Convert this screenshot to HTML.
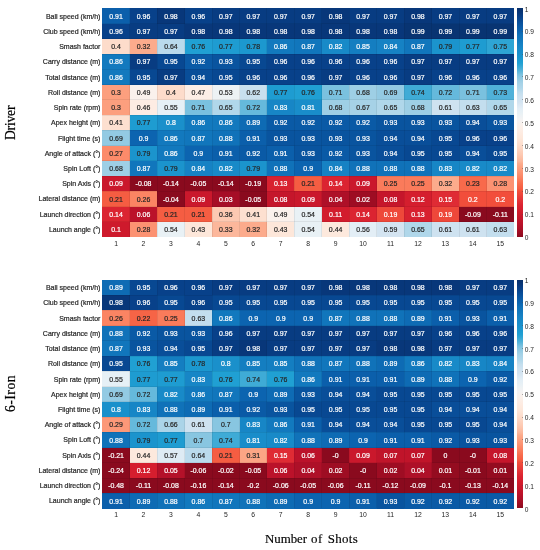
<!DOCTYPE html>
<html><head><meta charset="utf-8"><title>Heatmap</title>
<style>
html,body{margin:0;padding:0;background:#fff;}
body{width:540px;height:550px;position:relative;overflow:hidden;font-family:"Liberation Sans",sans-serif;}
.c{position:absolute;text-align:center;font-size:6.95px;line-height:15.25px;box-sizing:border-box;white-space:nowrap;overflow:hidden;padding-top:0.4px;-webkit-text-stroke:0.2px;}
.yl{position:absolute;right:439.6px;text-align:right;font-size:7.0px;color:#262626;white-space:nowrap;line-height:10px;height:10px;-webkit-text-stroke:0.2px;}
.xl{position:absolute;text-align:center;font-size:6.8px;color:#262626;width:28px;line-height:10px;}
.cb{position:absolute;left:517px;width:6px;}
.cl{position:absolute;left:524.8px;font-size:6.6px;color:#262626;line-height:10px;height:10px;}
.g{position:absolute;background:rgba(0,0,0,0.065);}
.rot{position:absolute;font-family:"Liberation Serif",serif;font-size:13.6px;line-height:16px;color:#000;-webkit-text-stroke:0.2px #000;white-space:nowrap;transform-origin:0 0;transform:rotate(-90deg);}
.xt{position:absolute;font-family:"Liberation Serif",serif;font-size:12.9px;line-height:15px;color:#000;-webkit-text-stroke:0.15px #000;white-space:nowrap;top:531.8px;}
</style></head><body>

<div class="yl" style="top:11.52px">Ball speed (km/h)</div>
<div class="c" style="left:102.30px;top:8.30px;width:27.50px;height:15.30px;background:#0b5fab;color:#fff">0.91</div>
<div class="c" style="left:129.75px;top:8.30px;width:27.50px;height:15.30px;background:#08418a;color:#fff">0.96</div>
<div class="c" style="left:157.19px;top:8.30px;width:27.50px;height:15.30px;background:#08377a;color:#fff">0.98</div>
<div class="c" style="left:184.64px;top:8.30px;width:27.50px;height:15.30px;background:#08418a;color:#fff">0.96</div>
<div class="c" style="left:212.09px;top:8.30px;width:27.50px;height:15.30px;background:#083c82;color:#fff">0.97</div>
<div class="c" style="left:239.53px;top:8.30px;width:27.50px;height:15.30px;background:#083c82;color:#fff">0.97</div>
<div class="c" style="left:266.98px;top:8.30px;width:27.50px;height:15.30px;background:#083c82;color:#fff">0.97</div>
<div class="c" style="left:294.43px;top:8.30px;width:27.50px;height:15.30px;background:#083c82;color:#fff">0.97</div>
<div class="c" style="left:321.87px;top:8.30px;width:27.50px;height:15.30px;background:#08377a;color:#fff">0.98</div>
<div class="c" style="left:349.32px;top:8.30px;width:27.50px;height:15.30px;background:#083c82;color:#fff">0.97</div>
<div class="c" style="left:376.77px;top:8.30px;width:27.50px;height:15.30px;background:#083c82;color:#fff">0.97</div>
<div class="c" style="left:404.21px;top:8.30px;width:27.50px;height:15.30px;background:#08377a;color:#fff">0.98</div>
<div class="c" style="left:431.66px;top:8.30px;width:27.50px;height:15.30px;background:#083c82;color:#fff">0.97</div>
<div class="c" style="left:459.11px;top:8.30px;width:27.50px;height:15.30px;background:#083c82;color:#fff">0.97</div>
<div class="c" style="left:486.55px;top:8.30px;width:27.50px;height:15.30px;background:#083c82;color:#fff">0.97</div>
<div class="yl" style="top:26.77px">Club speed (km/h)</div>
<div class="c" style="left:102.30px;top:23.55px;width:27.50px;height:15.30px;background:#08418a;color:#fff">0.96</div>
<div class="c" style="left:129.75px;top:23.55px;width:27.50px;height:15.30px;background:#083c82;color:#fff">0.97</div>
<div class="c" style="left:157.19px;top:23.55px;width:27.50px;height:15.30px;background:#083c82;color:#fff">0.97</div>
<div class="c" style="left:184.64px;top:23.55px;width:27.50px;height:15.30px;background:#08377a;color:#fff">0.98</div>
<div class="c" style="left:212.09px;top:23.55px;width:27.50px;height:15.30px;background:#08377a;color:#fff">0.98</div>
<div class="c" style="left:239.53px;top:23.55px;width:27.50px;height:15.30px;background:#08377a;color:#fff">0.98</div>
<div class="c" style="left:266.98px;top:23.55px;width:27.50px;height:15.30px;background:#08377a;color:#fff">0.98</div>
<div class="c" style="left:294.43px;top:23.55px;width:27.50px;height:15.30px;background:#08377a;color:#fff">0.98</div>
<div class="c" style="left:321.87px;top:23.55px;width:27.50px;height:15.30px;background:#08377a;color:#fff">0.98</div>
<div class="c" style="left:349.32px;top:23.55px;width:27.50px;height:15.30px;background:#08377a;color:#fff">0.98</div>
<div class="c" style="left:376.77px;top:23.55px;width:27.50px;height:15.30px;background:#08377a;color:#fff">0.98</div>
<div class="c" style="left:404.21px;top:23.55px;width:27.50px;height:15.30px;background:#083472;color:#fff">0.99</div>
<div class="c" style="left:431.66px;top:23.55px;width:27.50px;height:15.30px;background:#083472;color:#fff">0.99</div>
<div class="c" style="left:459.11px;top:23.55px;width:27.50px;height:15.30px;background:#083472;color:#fff">0.99</div>
<div class="c" style="left:486.55px;top:23.55px;width:27.50px;height:15.30px;background:#083472;color:#fff">0.99</div>
<div class="yl" style="top:42.02px">Smash factor</div>
<div class="c" style="left:102.30px;top:38.79px;width:27.50px;height:15.30px;background:#fddccb;color:#262626">0.4</div>
<div class="c" style="left:129.75px;top:38.79px;width:27.50px;height:15.30px;background:#fcab8c;color:#262626">0.32</div>
<div class="c" style="left:157.19px;top:38.79px;width:27.50px;height:15.30px;background:#badaec;color:#262626">0.64</div>
<div class="c" style="left:184.64px;top:38.79px;width:27.50px;height:15.30px;background:#20a0d3;color:#262626">0.76</div>
<div class="c" style="left:212.09px;top:38.79px;width:27.50px;height:15.30px;background:#1e9cd1;color:#262626">0.77</div>
<div class="c" style="left:239.53px;top:38.79px;width:27.50px;height:15.30px;background:#1c98cf;color:#262626">0.78</div>
<div class="c" style="left:266.98px;top:38.79px;width:27.50px;height:15.30px;background:#1279be;color:#fff">0.86</div>
<div class="c" style="left:294.43px;top:38.79px;width:27.50px;height:15.30px;background:#1176bc;color:#fff">0.87</div>
<div class="c" style="left:321.87px;top:38.79px;width:27.50px;height:15.30px;background:#188ac8;color:#fff">0.82</div>
<div class="c" style="left:349.32px;top:38.79px;width:27.50px;height:15.30px;background:#147ec1;color:#fff">0.85</div>
<div class="c" style="left:376.77px;top:38.79px;width:27.50px;height:15.30px;background:#1682c4;color:#fff">0.84</div>
<div class="c" style="left:404.21px;top:38.79px;width:27.50px;height:15.30px;background:#1176bc;color:#fff">0.87</div>
<div class="c" style="left:431.66px;top:38.79px;width:27.50px;height:15.30px;background:#1b94cd;color:#262626">0.79</div>
<div class="c" style="left:459.11px;top:38.79px;width:27.50px;height:15.30px;background:#1e9cd1;color:#262626">0.77</div>
<div class="c" style="left:486.55px;top:38.79px;width:27.50px;height:15.30px;background:#2ea5d4;color:#262626">0.75</div>
<div class="yl" style="top:57.26px">Carry distance (m)</div>
<div class="c" style="left:102.30px;top:54.04px;width:27.50px;height:15.30px;background:#1279be;color:#fff">0.86</div>
<div class="c" style="left:129.75px;top:54.04px;width:27.50px;height:15.30px;background:#083c82;color:#fff">0.97</div>
<div class="c" style="left:157.19px;top:54.04px;width:27.50px;height:15.30px;background:#084892;color:#fff">0.95</div>
<div class="c" style="left:184.64px;top:54.04px;width:27.50px;height:15.30px;background:#0a5aa6;color:#fff">0.92</div>
<div class="c" style="left:212.09px;top:54.04px;width:27.50px;height:15.30px;background:#09549f;color:#fff">0.93</div>
<div class="c" style="left:239.53px;top:54.04px;width:27.50px;height:15.30px;background:#084892;color:#fff">0.95</div>
<div class="c" style="left:266.98px;top:54.04px;width:27.50px;height:15.30px;background:#08418a;color:#fff">0.96</div>
<div class="c" style="left:294.43px;top:54.04px;width:27.50px;height:15.30px;background:#08418a;color:#fff">0.96</div>
<div class="c" style="left:321.87px;top:54.04px;width:27.50px;height:15.30px;background:#08418a;color:#fff">0.96</div>
<div class="c" style="left:349.32px;top:54.04px;width:27.50px;height:15.30px;background:#08418a;color:#fff">0.96</div>
<div class="c" style="left:376.77px;top:54.04px;width:27.50px;height:15.30px;background:#08418a;color:#fff">0.96</div>
<div class="c" style="left:404.21px;top:54.04px;width:27.50px;height:15.30px;background:#083c82;color:#fff">0.97</div>
<div class="c" style="left:431.66px;top:54.04px;width:27.50px;height:15.30px;background:#083c82;color:#fff">0.97</div>
<div class="c" style="left:459.11px;top:54.04px;width:27.50px;height:15.30px;background:#083c82;color:#fff">0.97</div>
<div class="c" style="left:486.55px;top:54.04px;width:27.50px;height:15.30px;background:#083c82;color:#fff">0.97</div>
<div class="yl" style="top:72.51px">Total distance (m)</div>
<div class="c" style="left:102.30px;top:69.29px;width:27.50px;height:15.30px;background:#1279be;color:#fff">0.86</div>
<div class="c" style="left:129.75px;top:69.29px;width:27.50px;height:15.30px;background:#084892;color:#fff">0.95</div>
<div class="c" style="left:157.19px;top:69.29px;width:27.50px;height:15.30px;background:#083c82;color:#fff">0.97</div>
<div class="c" style="left:184.64px;top:69.29px;width:27.50px;height:15.30px;background:#094e99;color:#fff">0.94</div>
<div class="c" style="left:212.09px;top:69.29px;width:27.50px;height:15.30px;background:#084892;color:#fff">0.95</div>
<div class="c" style="left:239.53px;top:69.29px;width:27.50px;height:15.30px;background:#08418a;color:#fff">0.96</div>
<div class="c" style="left:266.98px;top:69.29px;width:27.50px;height:15.30px;background:#08418a;color:#fff">0.96</div>
<div class="c" style="left:294.43px;top:69.29px;width:27.50px;height:15.30px;background:#08418a;color:#fff">0.96</div>
<div class="c" style="left:321.87px;top:69.29px;width:27.50px;height:15.30px;background:#083c82;color:#fff">0.97</div>
<div class="c" style="left:349.32px;top:69.29px;width:27.50px;height:15.30px;background:#08418a;color:#fff">0.96</div>
<div class="c" style="left:376.77px;top:69.29px;width:27.50px;height:15.30px;background:#08418a;color:#fff">0.96</div>
<div class="c" style="left:404.21px;top:69.29px;width:27.50px;height:15.30px;background:#083c82;color:#fff">0.97</div>
<div class="c" style="left:431.66px;top:69.29px;width:27.50px;height:15.30px;background:#08418a;color:#fff">0.96</div>
<div class="c" style="left:459.11px;top:69.29px;width:27.50px;height:15.30px;background:#08418a;color:#fff">0.96</div>
<div class="c" style="left:486.55px;top:69.29px;width:27.50px;height:15.30px;background:#08418a;color:#fff">0.96</div>
<div class="yl" style="top:87.76px">Roll distance (m)</div>
<div class="c" style="left:102.30px;top:84.53px;width:27.50px;height:15.30px;background:#fc9f7e;color:#262626">0.3</div>
<div class="c" style="left:129.75px;top:84.53px;width:27.50px;height:15.30px;background:#faf1ec;color:#262626">0.49</div>
<div class="c" style="left:157.19px;top:84.53px;width:27.50px;height:15.30px;background:#fddccb;color:#262626">0.4</div>
<div class="c" style="left:184.64px;top:84.53px;width:27.50px;height:15.30px;background:#fceee6;color:#262626">0.47</div>
<div class="c" style="left:212.09px;top:84.53px;width:27.50px;height:15.30px;background:#edf2f4;color:#262626">0.53</div>
<div class="c" style="left:239.53px;top:84.53px;width:27.50px;height:15.30px;background:#c8e0ef;color:#262626">0.62</div>
<div class="c" style="left:266.98px;top:84.53px;width:27.50px;height:15.30px;background:#1e9cd1;color:#262626">0.77</div>
<div class="c" style="left:294.43px;top:84.53px;width:27.50px;height:15.30px;background:#20a0d3;color:#262626">0.76</div>
<div class="c" style="left:321.87px;top:84.53px;width:27.50px;height:15.30px;background:#7ac1df;color:#262626">0.71</div>
<div class="c" style="left:349.32px;top:84.53px;width:27.50px;height:15.30px;background:#9ecfe5;color:#262626">0.68</div>
<div class="c" style="left:376.77px;top:84.53px;width:27.50px;height:15.30px;background:#93cae3;color:#262626">0.69</div>
<div class="c" style="left:404.21px;top:84.53px;width:27.50px;height:15.30px;background:#3fabd6;color:#262626">0.74</div>
<div class="c" style="left:431.66px;top:84.53px;width:27.50px;height:15.30px;background:#65b9dc;color:#262626">0.72</div>
<div class="c" style="left:459.11px;top:84.53px;width:27.50px;height:15.30px;background:#7ac1df;color:#262626">0.71</div>
<div class="c" style="left:486.55px;top:84.53px;width:27.50px;height:15.30px;background:#50b1d9;color:#262626">0.73</div>
<div class="yl" style="top:103.00px">Spin rate (rpm)</div>
<div class="c" style="left:102.30px;top:99.78px;width:27.50px;height:15.30px;background:#fc9f7e;color:#262626">0.3</div>
<div class="c" style="left:129.75px;top:99.78px;width:27.50px;height:15.30px;background:#fdece3;color:#262626">0.46</div>
<div class="c" style="left:157.19px;top:99.78px;width:27.50px;height:15.30px;background:#e6f0f6;color:#262626">0.55</div>
<div class="c" style="left:184.64px;top:99.78px;width:27.50px;height:15.30px;background:#7ac1df;color:#262626">0.71</div>
<div class="c" style="left:212.09px;top:99.78px;width:27.50px;height:15.30px;background:#b0d7ea;color:#262626">0.65</div>
<div class="c" style="left:239.53px;top:99.78px;width:27.50px;height:15.30px;background:#65b9dc;color:#262626">0.72</div>
<div class="c" style="left:266.98px;top:99.78px;width:27.50px;height:15.30px;background:#1786c6;color:#fff">0.83</div>
<div class="c" style="left:294.43px;top:99.78px;width:27.50px;height:15.30px;background:#198dca;color:#fff">0.81</div>
<div class="c" style="left:321.87px;top:99.78px;width:27.50px;height:15.30px;background:#9ecfe5;color:#262626">0.68</div>
<div class="c" style="left:349.32px;top:99.78px;width:27.50px;height:15.30px;background:#a6d2e7;color:#262626">0.67</div>
<div class="c" style="left:376.77px;top:99.78px;width:27.50px;height:15.30px;background:#b0d7ea;color:#262626">0.65</div>
<div class="c" style="left:404.21px;top:99.78px;width:27.50px;height:15.30px;background:#9ecfe5;color:#262626">0.68</div>
<div class="c" style="left:431.66px;top:99.78px;width:27.50px;height:15.30px;background:#cee2f0;color:#262626">0.61</div>
<div class="c" style="left:459.11px;top:99.78px;width:27.50px;height:15.30px;background:#c3deee;color:#262626">0.63</div>
<div class="c" style="left:486.55px;top:99.78px;width:27.50px;height:15.30px;background:#b0d7ea;color:#262626">0.65</div>
<div class="yl" style="top:118.25px">Apex height (m)</div>
<div class="c" style="left:102.30px;top:115.03px;width:27.50px;height:15.30px;background:#fde0d0;color:#262626">0.41</div>
<div class="c" style="left:129.75px;top:115.03px;width:27.50px;height:15.30px;background:#1e9cd1;color:#262626">0.77</div>
<div class="c" style="left:157.19px;top:115.03px;width:27.50px;height:15.30px;background:#1a90cb;color:#fff">0.8</div>
<div class="c" style="left:184.64px;top:115.03px;width:27.50px;height:15.30px;background:#1279be;color:#fff">0.86</div>
<div class="c" style="left:212.09px;top:115.03px;width:27.50px;height:15.30px;background:#1279be;color:#fff">0.86</div>
<div class="c" style="left:239.53px;top:115.03px;width:27.50px;height:15.30px;background:#0e6bb4;color:#fff">0.89</div>
<div class="c" style="left:266.98px;top:115.03px;width:27.50px;height:15.30px;background:#0a5aa6;color:#fff">0.92</div>
<div class="c" style="left:294.43px;top:115.03px;width:27.50px;height:15.30px;background:#0a5aa6;color:#fff">0.92</div>
<div class="c" style="left:321.87px;top:115.03px;width:27.50px;height:15.30px;background:#0a5aa6;color:#fff">0.92</div>
<div class="c" style="left:349.32px;top:115.03px;width:27.50px;height:15.30px;background:#0a5aa6;color:#fff">0.92</div>
<div class="c" style="left:376.77px;top:115.03px;width:27.50px;height:15.30px;background:#09549f;color:#fff">0.93</div>
<div class="c" style="left:404.21px;top:115.03px;width:27.50px;height:15.30px;background:#09549f;color:#fff">0.93</div>
<div class="c" style="left:431.66px;top:115.03px;width:27.50px;height:15.30px;background:#09549f;color:#fff">0.93</div>
<div class="c" style="left:459.11px;top:115.03px;width:27.50px;height:15.30px;background:#094e99;color:#fff">0.94</div>
<div class="c" style="left:486.55px;top:115.03px;width:27.50px;height:15.30px;background:#09549f;color:#fff">0.93</div>
<div class="yl" style="top:133.50px">Flight time (s)</div>
<div class="c" style="left:102.30px;top:130.27px;width:27.50px;height:15.30px;background:#93cae3;color:#262626">0.69</div>
<div class="c" style="left:129.75px;top:130.27px;width:27.50px;height:15.30px;background:#0c64b0;color:#fff">0.9</div>
<div class="c" style="left:157.19px;top:130.27px;width:27.50px;height:15.30px;background:#1279be;color:#fff">0.86</div>
<div class="c" style="left:184.64px;top:130.27px;width:27.50px;height:15.30px;background:#1176bc;color:#fff">0.87</div>
<div class="c" style="left:212.09px;top:130.27px;width:27.50px;height:15.30px;background:#1072b9;color:#fff">0.88</div>
<div class="c" style="left:239.53px;top:130.27px;width:27.50px;height:15.30px;background:#0b5fab;color:#fff">0.91</div>
<div class="c" style="left:266.98px;top:130.27px;width:27.50px;height:15.30px;background:#09549f;color:#fff">0.93</div>
<div class="c" style="left:294.43px;top:130.27px;width:27.50px;height:15.30px;background:#09549f;color:#fff">0.93</div>
<div class="c" style="left:321.87px;top:130.27px;width:27.50px;height:15.30px;background:#09549f;color:#fff">0.93</div>
<div class="c" style="left:349.32px;top:130.27px;width:27.50px;height:15.30px;background:#09549f;color:#fff">0.93</div>
<div class="c" style="left:376.77px;top:130.27px;width:27.50px;height:15.30px;background:#094e99;color:#fff">0.94</div>
<div class="c" style="left:404.21px;top:130.27px;width:27.50px;height:15.30px;background:#094e99;color:#fff">0.94</div>
<div class="c" style="left:431.66px;top:130.27px;width:27.50px;height:15.30px;background:#084892;color:#fff">0.95</div>
<div class="c" style="left:459.11px;top:130.27px;width:27.50px;height:15.30px;background:#08418a;color:#fff">0.96</div>
<div class="c" style="left:486.55px;top:130.27px;width:27.50px;height:15.30px;background:#08418a;color:#fff">0.96</div>
<div class="yl" style="top:148.74px">Angle of attack (°)</div>
<div class="c" style="left:102.30px;top:145.52px;width:27.50px;height:15.30px;background:#fc8b6a;color:#262626">0.27</div>
<div class="c" style="left:129.75px;top:145.52px;width:27.50px;height:15.30px;background:#1b94cd;color:#262626">0.79</div>
<div class="c" style="left:157.19px;top:145.52px;width:27.50px;height:15.30px;background:#1279be;color:#fff">0.86</div>
<div class="c" style="left:184.64px;top:145.52px;width:27.50px;height:15.30px;background:#0c64b0;color:#fff">0.9</div>
<div class="c" style="left:212.09px;top:145.52px;width:27.50px;height:15.30px;background:#0b5fab;color:#fff">0.91</div>
<div class="c" style="left:239.53px;top:145.52px;width:27.50px;height:15.30px;background:#0a5aa6;color:#fff">0.92</div>
<div class="c" style="left:266.98px;top:145.52px;width:27.50px;height:15.30px;background:#0b5fab;color:#fff">0.91</div>
<div class="c" style="left:294.43px;top:145.52px;width:27.50px;height:15.30px;background:#09549f;color:#fff">0.93</div>
<div class="c" style="left:321.87px;top:145.52px;width:27.50px;height:15.30px;background:#0a5aa6;color:#fff">0.92</div>
<div class="c" style="left:349.32px;top:145.52px;width:27.50px;height:15.30px;background:#09549f;color:#fff">0.93</div>
<div class="c" style="left:376.77px;top:145.52px;width:27.50px;height:15.30px;background:#094e99;color:#fff">0.94</div>
<div class="c" style="left:404.21px;top:145.52px;width:27.50px;height:15.30px;background:#084892;color:#fff">0.95</div>
<div class="c" style="left:431.66px;top:145.52px;width:27.50px;height:15.30px;background:#084892;color:#fff">0.95</div>
<div class="c" style="left:459.11px;top:145.52px;width:27.50px;height:15.30px;background:#094e99;color:#fff">0.94</div>
<div class="c" style="left:486.55px;top:145.52px;width:27.50px;height:15.30px;background:#084892;color:#fff">0.95</div>
<div class="yl" style="top:163.99px">Spin Loft (°)</div>
<div class="c" style="left:102.30px;top:160.77px;width:27.50px;height:15.30px;background:#9ecfe5;color:#262626">0.68</div>
<div class="c" style="left:129.75px;top:160.77px;width:27.50px;height:15.30px;background:#1176bc;color:#fff">0.87</div>
<div class="c" style="left:157.19px;top:160.77px;width:27.50px;height:15.30px;background:#1b94cd;color:#262626">0.79</div>
<div class="c" style="left:184.64px;top:160.77px;width:27.50px;height:15.30px;background:#1682c4;color:#fff">0.84</div>
<div class="c" style="left:212.09px;top:160.77px;width:27.50px;height:15.30px;background:#188ac8;color:#fff">0.82</div>
<div class="c" style="left:239.53px;top:160.77px;width:27.50px;height:15.30px;background:#1b94cd;color:#262626">0.79</div>
<div class="c" style="left:266.98px;top:160.77px;width:27.50px;height:15.30px;background:#1072b9;color:#fff">0.88</div>
<div class="c" style="left:294.43px;top:160.77px;width:27.50px;height:15.30px;background:#0c64b0;color:#fff">0.9</div>
<div class="c" style="left:321.87px;top:160.77px;width:27.50px;height:15.30px;background:#1682c4;color:#fff">0.84</div>
<div class="c" style="left:349.32px;top:160.77px;width:27.50px;height:15.30px;background:#1072b9;color:#fff">0.88</div>
<div class="c" style="left:376.77px;top:160.77px;width:27.50px;height:15.30px;background:#1072b9;color:#fff">0.88</div>
<div class="c" style="left:404.21px;top:160.77px;width:27.50px;height:15.30px;background:#1072b9;color:#fff">0.88</div>
<div class="c" style="left:431.66px;top:160.77px;width:27.50px;height:15.30px;background:#1786c6;color:#fff">0.83</div>
<div class="c" style="left:459.11px;top:160.77px;width:27.50px;height:15.30px;background:#188ac8;color:#fff">0.82</div>
<div class="c" style="left:486.55px;top:160.77px;width:27.50px;height:15.30px;background:#188ac8;color:#fff">0.82</div>
<div class="yl" style="top:179.24px">Spin Axis (°)</div>
<div class="c" style="left:102.30px;top:176.01px;width:27.50px;height:15.30px;background:#ca182c;color:#fff">0.09</div>
<div class="c" style="left:129.75px;top:176.01px;width:27.50px;height:15.30px;background:#8a0a1e;color:#fff">-0.08</div>
<div class="c" style="left:157.19px;top:176.01px;width:27.50px;height:15.30px;background:#8a0a1e;color:#fff">-0.14</div>
<div class="c" style="left:184.64px;top:176.01px;width:27.50px;height:15.30px;background:#8a0a1e;color:#fff">-0.05</div>
<div class="c" style="left:212.09px;top:176.01px;width:27.50px;height:15.30px;background:#8a0a1e;color:#fff">-0.14</div>
<div class="c" style="left:239.53px;top:176.01px;width:27.50px;height:15.30px;background:#8a0a1e;color:#fff">-0.19</div>
<div class="c" style="left:266.98px;top:176.01px;width:27.50px;height:15.30px;background:#d82130;color:#fff">0.13</div>
<div class="c" style="left:294.43px;top:176.01px;width:27.50px;height:15.30px;background:#f55d42;color:#262626">0.21</div>
<div class="c" style="left:321.87px;top:176.01px;width:27.50px;height:15.30px;background:#db2431;color:#fff">0.14</div>
<div class="c" style="left:349.32px;top:176.01px;width:27.50px;height:15.30px;background:#ca182c;color:#fff">0.09</div>
<div class="c" style="left:376.77px;top:176.01px;width:27.50px;height:15.30px;background:#fa7b5b;color:#262626">0.25</div>
<div class="c" style="left:404.21px;top:176.01px;width:27.50px;height:15.30px;background:#fa7b5b;color:#262626">0.25</div>
<div class="c" style="left:431.66px;top:176.01px;width:27.50px;height:15.30px;background:#fcab8c;color:#262626">0.32</div>
<div class="c" style="left:459.11px;top:176.01px;width:27.50px;height:15.30px;background:#f86a4b;color:#262626">0.23</div>
<div class="c" style="left:486.55px;top:176.01px;width:27.50px;height:15.30px;background:#fc9272;color:#262626">0.28</div>
<div class="yl" style="top:194.48px">Lateral distance (m)</div>
<div class="c" style="left:102.30px;top:191.26px;width:27.50px;height:15.30px;background:#f55d42;color:#262626">0.21</div>
<div class="c" style="left:129.75px;top:191.26px;width:27.50px;height:15.30px;background:#fb8463;color:#262626">0.26</div>
<div class="c" style="left:157.19px;top:191.26px;width:27.50px;height:15.30px;background:#8a0a1e;color:#fff">-0.04</div>
<div class="c" style="left:184.64px;top:191.26px;width:27.50px;height:15.30px;background:#ca182c;color:#fff">0.09</div>
<div class="c" style="left:212.09px;top:191.26px;width:27.50px;height:15.30px;background:#a60e26;color:#fff">0.03</div>
<div class="c" style="left:239.53px;top:191.26px;width:27.50px;height:15.30px;background:#8a0a1e;color:#fff">-0.05</div>
<div class="c" style="left:266.98px;top:191.26px;width:27.50px;height:15.30px;background:#c5162b;color:#fff">0.08</div>
<div class="c" style="left:294.43px;top:191.26px;width:27.50px;height:15.30px;background:#ca182c;color:#fff">0.09</div>
<div class="c" style="left:321.87px;top:191.26px;width:27.50px;height:15.30px;background:#ae1028;color:#fff">0.04</div>
<div class="c" style="left:349.32px;top:191.26px;width:27.50px;height:15.30px;background:#9e0d23;color:#fff">0.02</div>
<div class="c" style="left:376.77px;top:191.26px;width:27.50px;height:15.30px;background:#c5162b;color:#fff">0.08</div>
<div class="c" style="left:404.21px;top:191.26px;width:27.50px;height:15.30px;background:#d51e2e;color:#fff">0.12</div>
<div class="c" style="left:431.66px;top:191.26px;width:27.50px;height:15.30px;background:#df2b34;color:#fff">0.15</div>
<div class="c" style="left:459.11px;top:191.26px;width:27.50px;height:15.30px;background:#f24e3b;color:#fff">0.2</div>
<div class="c" style="left:486.55px;top:191.26px;width:27.50px;height:15.30px;background:#f24e3b;color:#fff">0.2</div>
<div class="yl" style="top:209.73px">Launch direction (°)</div>
<div class="c" style="left:102.30px;top:206.51px;width:27.50px;height:15.30px;background:#db2431;color:#fff">0.14</div>
<div class="c" style="left:129.75px;top:206.51px;width:27.50px;height:15.30px;background:#bb122a;color:#fff">0.06</div>
<div class="c" style="left:157.19px;top:206.51px;width:27.50px;height:15.30px;background:#f55d42;color:#262626">0.21</div>
<div class="c" style="left:184.64px;top:206.51px;width:27.50px;height:15.30px;background:#f55d42;color:#262626">0.21</div>
<div class="c" style="left:212.09px;top:206.51px;width:27.50px;height:15.30px;background:#fdc9b2;color:#262626">0.36</div>
<div class="c" style="left:239.53px;top:206.51px;width:27.50px;height:15.30px;background:#fde0d0;color:#262626">0.41</div>
<div class="c" style="left:266.98px;top:206.51px;width:27.50px;height:15.30px;background:#faf1ec;color:#262626">0.49</div>
<div class="c" style="left:294.43px;top:206.51px;width:27.50px;height:15.30px;background:#e9f1f5;color:#262626">0.54</div>
<div class="c" style="left:321.87px;top:206.51px;width:27.50px;height:15.30px;background:#d21c2d;color:#fff">0.11</div>
<div class="c" style="left:349.32px;top:206.51px;width:27.50px;height:15.30px;background:#db2431;color:#fff">0.14</div>
<div class="c" style="left:376.77px;top:206.51px;width:27.50px;height:15.30px;background:#ee483a;color:#fff">0.19</div>
<div class="c" style="left:404.21px;top:206.51px;width:27.50px;height:15.30px;background:#d82130;color:#fff">0.13</div>
<div class="c" style="left:431.66px;top:206.51px;width:27.50px;height:15.30px;background:#ee483a;color:#fff">0.19</div>
<div class="c" style="left:459.11px;top:206.51px;width:27.50px;height:15.30px;background:#8a0a1e;color:#fff">-0.09</div>
<div class="c" style="left:486.55px;top:206.51px;width:27.50px;height:15.30px;background:#8a0a1e;color:#fff">-0.11</div>
<div class="yl" style="top:224.98px">Launch angle (°)</div>
<div class="c" style="left:102.30px;top:221.75px;width:27.50px;height:15.30px;background:#ce1a2c;color:#fff">0.1</div>
<div class="c" style="left:129.75px;top:221.75px;width:27.50px;height:15.30px;background:#fc9272;color:#262626">0.28</div>
<div class="c" style="left:157.19px;top:221.75px;width:27.50px;height:15.30px;background:#e9f1f5;color:#262626">0.54</div>
<div class="c" style="left:184.64px;top:221.75px;width:27.50px;height:15.30px;background:#fde7da;color:#262626">0.43</div>
<div class="c" style="left:212.09px;top:221.75px;width:27.50px;height:15.30px;background:#fcb79b;color:#262626">0.33</div>
<div class="c" style="left:239.53px;top:221.75px;width:27.50px;height:15.30px;background:#fcab8c;color:#262626">0.32</div>
<div class="c" style="left:266.98px;top:221.75px;width:27.50px;height:15.30px;background:#fde7da;color:#262626">0.43</div>
<div class="c" style="left:294.43px;top:221.75px;width:27.50px;height:15.30px;background:#e9f1f5;color:#262626">0.54</div>
<div class="c" style="left:321.87px;top:221.75px;width:27.50px;height:15.30px;background:#fde9dd;color:#262626">0.44</div>
<div class="c" style="left:349.32px;top:221.75px;width:27.50px;height:15.30px;background:#e3eef6;color:#262626">0.56</div>
<div class="c" style="left:376.77px;top:221.75px;width:27.50px;height:15.30px;background:#d4e4f1;color:#262626">0.59</div>
<div class="c" style="left:404.21px;top:221.75px;width:27.50px;height:15.30px;background:#b0d7ea;color:#262626">0.65</div>
<div class="c" style="left:431.66px;top:221.75px;width:27.50px;height:15.30px;background:#cee2f0;color:#262626">0.61</div>
<div class="c" style="left:459.11px;top:221.75px;width:27.50px;height:15.30px;background:#cee2f0;color:#262626">0.61</div>
<div class="c" style="left:486.55px;top:221.75px;width:27.50px;height:15.30px;background:#c3deee;color:#262626">0.63</div>
<div class="g" style="left:102.30px;top:23.00px;width:411.70px;height:1px"></div>
<div class="g" style="left:102.30px;top:38.00px;width:411.70px;height:1px"></div>
<div class="g" style="left:102.30px;top:54.00px;width:411.70px;height:1px"></div>
<div class="g" style="left:102.30px;top:69.00px;width:411.70px;height:1px"></div>
<div class="g" style="left:102.30px;top:84.00px;width:411.70px;height:1px"></div>
<div class="g" style="left:102.30px;top:99.00px;width:411.70px;height:1px"></div>
<div class="g" style="left:102.30px;top:115.00px;width:411.70px;height:1px"></div>
<div class="g" style="left:102.30px;top:130.00px;width:411.70px;height:1px"></div>
<div class="g" style="left:102.30px;top:145.00px;width:411.70px;height:1px"></div>
<div class="g" style="left:102.30px;top:160.00px;width:411.70px;height:1px"></div>
<div class="g" style="left:102.30px;top:176.00px;width:411.70px;height:1px"></div>
<div class="g" style="left:102.30px;top:191.00px;width:411.70px;height:1px"></div>
<div class="g" style="left:102.30px;top:206.00px;width:411.70px;height:1px"></div>
<div class="g" style="left:102.30px;top:221.00px;width:411.70px;height:1px"></div>
<div class="g" style="left:129.00px;top:8.30px;width:1px;height:228.70px"></div>
<div class="g" style="left:157.00px;top:8.30px;width:1px;height:228.70px"></div>
<div class="g" style="left:184.00px;top:8.30px;width:1px;height:228.70px"></div>
<div class="g" style="left:212.00px;top:8.30px;width:1px;height:228.70px"></div>
<div class="g" style="left:239.00px;top:8.30px;width:1px;height:228.70px"></div>
<div class="g" style="left:266.00px;top:8.30px;width:1px;height:228.70px"></div>
<div class="g" style="left:294.00px;top:8.30px;width:1px;height:228.70px"></div>
<div class="g" style="left:321.00px;top:8.30px;width:1px;height:228.70px"></div>
<div class="g" style="left:349.00px;top:8.30px;width:1px;height:228.70px"></div>
<div class="g" style="left:376.00px;top:8.30px;width:1px;height:228.70px"></div>
<div class="g" style="left:404.00px;top:8.30px;width:1px;height:228.70px"></div>
<div class="g" style="left:431.00px;top:8.30px;width:1px;height:228.70px"></div>
<div class="g" style="left:459.00px;top:8.30px;width:1px;height:228.70px"></div>
<div class="g" style="left:486.00px;top:8.30px;width:1px;height:228.70px"></div>
<div class="xl" style="left:102.02px;top:238.60px">1</div>
<div class="xl" style="left:129.47px;top:238.60px">2</div>
<div class="xl" style="left:156.92px;top:238.60px">3</div>
<div class="xl" style="left:184.36px;top:238.60px">4</div>
<div class="xl" style="left:211.81px;top:238.60px">5</div>
<div class="xl" style="left:239.26px;top:238.60px">6</div>
<div class="xl" style="left:266.70px;top:238.60px">7</div>
<div class="xl" style="left:294.15px;top:238.60px">8</div>
<div class="xl" style="left:321.60px;top:238.60px">9</div>
<div class="xl" style="left:349.04px;top:238.60px">10</div>
<div class="xl" style="left:376.49px;top:238.60px">11</div>
<div class="xl" style="left:403.94px;top:238.60px">12</div>
<div class="xl" style="left:431.38px;top:238.60px">13</div>
<div class="xl" style="left:458.83px;top:238.60px">14</div>
<div class="xl" style="left:486.28px;top:238.60px">15</div>
<div class="cb" style="top:8.30px;height:228.70px;background:linear-gradient(to bottom,#08306b 0.0%,#08377a 2.0%,#08418a 4.0%,#094e99 6.0%,#0a5aa6 8.0%,#0c64b0 10.0%,#1072b9 12.0%,#1279be 14.0%,#1682c4 16.0%,#188ac8 18.0%,#1a90cb 20.0%,#1c98cf 22.0%,#20a0d3 24.0%,#2ea5d4 25.0%,#3fabd6 26.0%,#50b1d9 27.0%,#65b9dc 28.0%,#7ac1df 29.0%,#88c6e1 30.0%,#93cae3 31.0%,#9ecfe5 32.0%,#a6d2e7 33.0%,#b0d7ea 35.0%,#c3deee 37.0%,#cee2f0 39.0%,#d4e4f1 41.0%,#e3eef6 44.0%,#e9f1f5 46.0%,#f5f3f3 49.0%,#faf1ec 51.0%,#fdece3 54.0%,#fde7da 57.0%,#fddccb 60.0%,#fdc9b2 64.0%,#fcb79b 67.0%,#fcab8c 68.0%,#fc9f7e 70.0%,#fc9272 72.0%,#fb8463 74.0%,#fa7b5b 75.0%,#f86a4b 77.0%,#f55d42 79.0%,#f24e3b 80.0%,#ea413a 82.0%,#e33237 84.0%,#db2431 86.0%,#d51e2e 88.0%,#ce1a2c 90.0%,#c5162b 92.0%,#bb122a 94.0%,#ae1028 96.0%,#9e0d23 98.0%,#8a0a1e 100.0%)"></div>
<div class="cl" style="top:233.20px">0</div>
<div class="cl" style="top:210.33px">0.1</div>
<div style="position:absolute;left:521.5px;width:1.5px;height:1px;top:213.63px;background:rgba(70,70,70,0.45)"></div>
<div class="cl" style="top:187.46px">0.2</div>
<div style="position:absolute;left:521.5px;width:1.5px;height:1px;top:190.76px;background:rgba(70,70,70,0.45)"></div>
<div class="cl" style="top:164.59px">0.3</div>
<div style="position:absolute;left:521.5px;width:1.5px;height:1px;top:167.89px;background:rgba(70,70,70,0.45)"></div>
<div class="cl" style="top:141.72px">0.4</div>
<div style="position:absolute;left:521.5px;width:1.5px;height:1px;top:145.02px;background:rgba(70,70,70,0.45)"></div>
<div class="cl" style="top:118.85px">0.5</div>
<div style="position:absolute;left:521.5px;width:1.5px;height:1px;top:122.15px;background:rgba(70,70,70,0.45)"></div>
<div class="cl" style="top:95.98px">0.6</div>
<div style="position:absolute;left:521.5px;width:1.5px;height:1px;top:99.28px;background:rgba(70,70,70,0.45)"></div>
<div class="cl" style="top:73.11px">0.7</div>
<div style="position:absolute;left:521.5px;width:1.5px;height:1px;top:76.41px;background:rgba(70,70,70,0.45)"></div>
<div class="cl" style="top:50.24px">0.8</div>
<div style="position:absolute;left:521.5px;width:1.5px;height:1px;top:53.54px;background:rgba(70,70,70,0.45)"></div>
<div class="cl" style="top:27.37px">0.9</div>
<div style="position:absolute;left:521.5px;width:1.5px;height:1px;top:30.67px;background:rgba(70,70,70,0.45)"></div>
<div class="cl" style="top:4.50px">1</div>
<div class="yl" style="top:283.02px">Ball speed (km/h)</div>
<div class="c" style="left:102.30px;top:279.80px;width:27.50px;height:15.30px;background:#0e6bb4;color:#fff">0.89</div>
<div class="c" style="left:129.75px;top:279.80px;width:27.50px;height:15.30px;background:#084892;color:#fff">0.95</div>
<div class="c" style="left:157.19px;top:279.80px;width:27.50px;height:15.30px;background:#08418a;color:#fff">0.96</div>
<div class="c" style="left:184.64px;top:279.80px;width:27.50px;height:15.30px;background:#08418a;color:#fff">0.96</div>
<div class="c" style="left:212.09px;top:279.80px;width:27.50px;height:15.30px;background:#083c82;color:#fff">0.97</div>
<div class="c" style="left:239.53px;top:279.80px;width:27.50px;height:15.30px;background:#083c82;color:#fff">0.97</div>
<div class="c" style="left:266.98px;top:279.80px;width:27.50px;height:15.30px;background:#083c82;color:#fff">0.97</div>
<div class="c" style="left:294.43px;top:279.80px;width:27.50px;height:15.30px;background:#083c82;color:#fff">0.97</div>
<div class="c" style="left:321.87px;top:279.80px;width:27.50px;height:15.30px;background:#08377a;color:#fff">0.98</div>
<div class="c" style="left:349.32px;top:279.80px;width:27.50px;height:15.30px;background:#08377a;color:#fff">0.98</div>
<div class="c" style="left:376.77px;top:279.80px;width:27.50px;height:15.30px;background:#08377a;color:#fff">0.98</div>
<div class="c" style="left:404.21px;top:279.80px;width:27.50px;height:15.30px;background:#08377a;color:#fff">0.98</div>
<div class="c" style="left:431.66px;top:279.80px;width:27.50px;height:15.30px;background:#08377a;color:#fff">0.98</div>
<div class="c" style="left:459.11px;top:279.80px;width:27.50px;height:15.30px;background:#083c82;color:#fff">0.97</div>
<div class="c" style="left:486.55px;top:279.80px;width:27.50px;height:15.30px;background:#083c82;color:#fff">0.97</div>
<div class="yl" style="top:298.27px">Club speed (km/h)</div>
<div class="c" style="left:102.30px;top:295.05px;width:27.50px;height:15.30px;background:#08377a;color:#fff">0.98</div>
<div class="c" style="left:129.75px;top:295.05px;width:27.50px;height:15.30px;background:#08418a;color:#fff">0.96</div>
<div class="c" style="left:157.19px;top:295.05px;width:27.50px;height:15.30px;background:#084892;color:#fff">0.95</div>
<div class="c" style="left:184.64px;top:295.05px;width:27.50px;height:15.30px;background:#08418a;color:#fff">0.96</div>
<div class="c" style="left:212.09px;top:295.05px;width:27.50px;height:15.30px;background:#084892;color:#fff">0.95</div>
<div class="c" style="left:239.53px;top:295.05px;width:27.50px;height:15.30px;background:#084892;color:#fff">0.95</div>
<div class="c" style="left:266.98px;top:295.05px;width:27.50px;height:15.30px;background:#084892;color:#fff">0.95</div>
<div class="c" style="left:294.43px;top:295.05px;width:27.50px;height:15.30px;background:#084892;color:#fff">0.95</div>
<div class="c" style="left:321.87px;top:295.05px;width:27.50px;height:15.30px;background:#084892;color:#fff">0.95</div>
<div class="c" style="left:349.32px;top:295.05px;width:27.50px;height:15.30px;background:#084892;color:#fff">0.95</div>
<div class="c" style="left:376.77px;top:295.05px;width:27.50px;height:15.30px;background:#084892;color:#fff">0.95</div>
<div class="c" style="left:404.21px;top:295.05px;width:27.50px;height:15.30px;background:#084892;color:#fff">0.95</div>
<div class="c" style="left:431.66px;top:295.05px;width:27.50px;height:15.30px;background:#084892;color:#fff">0.95</div>
<div class="c" style="left:459.11px;top:295.05px;width:27.50px;height:15.30px;background:#084892;color:#fff">0.95</div>
<div class="c" style="left:486.55px;top:295.05px;width:27.50px;height:15.30px;background:#084892;color:#fff">0.95</div>
<div class="yl" style="top:313.52px">Smash factor</div>
<div class="c" style="left:102.30px;top:310.29px;width:27.50px;height:15.30px;background:#fb8463;color:#262626">0.26</div>
<div class="c" style="left:129.75px;top:310.29px;width:27.50px;height:15.30px;background:#f66446;color:#262626">0.22</div>
<div class="c" style="left:157.19px;top:310.29px;width:27.50px;height:15.30px;background:#fa7b5b;color:#262626">0.25</div>
<div class="c" style="left:184.64px;top:310.29px;width:27.50px;height:15.30px;background:#c3deee;color:#262626">0.63</div>
<div class="c" style="left:212.09px;top:310.29px;width:27.50px;height:15.30px;background:#1279be;color:#fff">0.86</div>
<div class="c" style="left:239.53px;top:310.29px;width:27.50px;height:15.30px;background:#0c64b0;color:#fff">0.9</div>
<div class="c" style="left:266.98px;top:310.29px;width:27.50px;height:15.30px;background:#0c64b0;color:#fff">0.9</div>
<div class="c" style="left:294.43px;top:310.29px;width:27.50px;height:15.30px;background:#0c64b0;color:#fff">0.9</div>
<div class="c" style="left:321.87px;top:310.29px;width:27.50px;height:15.30px;background:#1176bc;color:#fff">0.87</div>
<div class="c" style="left:349.32px;top:310.29px;width:27.50px;height:15.30px;background:#1072b9;color:#fff">0.88</div>
<div class="c" style="left:376.77px;top:310.29px;width:27.50px;height:15.30px;background:#1072b9;color:#fff">0.88</div>
<div class="c" style="left:404.21px;top:310.29px;width:27.50px;height:15.30px;background:#0e6bb4;color:#fff">0.89</div>
<div class="c" style="left:431.66px;top:310.29px;width:27.50px;height:15.30px;background:#0b5fab;color:#fff">0.91</div>
<div class="c" style="left:459.11px;top:310.29px;width:27.50px;height:15.30px;background:#09549f;color:#fff">0.93</div>
<div class="c" style="left:486.55px;top:310.29px;width:27.50px;height:15.30px;background:#0b5fab;color:#fff">0.91</div>
<div class="yl" style="top:328.76px">Carry distance (m)</div>
<div class="c" style="left:102.30px;top:325.54px;width:27.50px;height:15.30px;background:#1072b9;color:#fff">0.88</div>
<div class="c" style="left:129.75px;top:325.54px;width:27.50px;height:15.30px;background:#0a5aa6;color:#fff">0.92</div>
<div class="c" style="left:157.19px;top:325.54px;width:27.50px;height:15.30px;background:#09549f;color:#fff">0.93</div>
<div class="c" style="left:184.64px;top:325.54px;width:27.50px;height:15.30px;background:#09549f;color:#fff">0.93</div>
<div class="c" style="left:212.09px;top:325.54px;width:27.50px;height:15.30px;background:#08418a;color:#fff">0.96</div>
<div class="c" style="left:239.53px;top:325.54px;width:27.50px;height:15.30px;background:#083c82;color:#fff">0.97</div>
<div class="c" style="left:266.98px;top:325.54px;width:27.50px;height:15.30px;background:#083c82;color:#fff">0.97</div>
<div class="c" style="left:294.43px;top:325.54px;width:27.50px;height:15.30px;background:#083c82;color:#fff">0.97</div>
<div class="c" style="left:321.87px;top:325.54px;width:27.50px;height:15.30px;background:#083c82;color:#fff">0.97</div>
<div class="c" style="left:349.32px;top:325.54px;width:27.50px;height:15.30px;background:#083c82;color:#fff">0.97</div>
<div class="c" style="left:376.77px;top:325.54px;width:27.50px;height:15.30px;background:#083c82;color:#fff">0.97</div>
<div class="c" style="left:404.21px;top:325.54px;width:27.50px;height:15.30px;background:#083c82;color:#fff">0.97</div>
<div class="c" style="left:431.66px;top:325.54px;width:27.50px;height:15.30px;background:#08418a;color:#fff">0.96</div>
<div class="c" style="left:459.11px;top:325.54px;width:27.50px;height:15.30px;background:#08418a;color:#fff">0.96</div>
<div class="c" style="left:486.55px;top:325.54px;width:27.50px;height:15.30px;background:#08418a;color:#fff">0.96</div>
<div class="yl" style="top:344.01px">Total distance (m)</div>
<div class="c" style="left:102.30px;top:340.79px;width:27.50px;height:15.30px;background:#1176bc;color:#fff">0.87</div>
<div class="c" style="left:129.75px;top:340.79px;width:27.50px;height:15.30px;background:#09549f;color:#fff">0.93</div>
<div class="c" style="left:157.19px;top:340.79px;width:27.50px;height:15.30px;background:#094e99;color:#fff">0.94</div>
<div class="c" style="left:184.64px;top:340.79px;width:27.50px;height:15.30px;background:#084892;color:#fff">0.95</div>
<div class="c" style="left:212.09px;top:340.79px;width:27.50px;height:15.30px;background:#083c82;color:#fff">0.97</div>
<div class="c" style="left:239.53px;top:340.79px;width:27.50px;height:15.30px;background:#08377a;color:#fff">0.98</div>
<div class="c" style="left:266.98px;top:340.79px;width:27.50px;height:15.30px;background:#083c82;color:#fff">0.97</div>
<div class="c" style="left:294.43px;top:340.79px;width:27.50px;height:15.30px;background:#083c82;color:#fff">0.97</div>
<div class="c" style="left:321.87px;top:340.79px;width:27.50px;height:15.30px;background:#083c82;color:#fff">0.97</div>
<div class="c" style="left:349.32px;top:340.79px;width:27.50px;height:15.30px;background:#083c82;color:#fff">0.97</div>
<div class="c" style="left:376.77px;top:340.79px;width:27.50px;height:15.30px;background:#08377a;color:#fff">0.98</div>
<div class="c" style="left:404.21px;top:340.79px;width:27.50px;height:15.30px;background:#08377a;color:#fff">0.98</div>
<div class="c" style="left:431.66px;top:340.79px;width:27.50px;height:15.30px;background:#083c82;color:#fff">0.97</div>
<div class="c" style="left:459.11px;top:340.79px;width:27.50px;height:15.30px;background:#083c82;color:#fff">0.97</div>
<div class="c" style="left:486.55px;top:340.79px;width:27.50px;height:15.30px;background:#083c82;color:#fff">0.97</div>
<div class="yl" style="top:359.26px">Roll distance (m)</div>
<div class="c" style="left:102.30px;top:356.03px;width:27.50px;height:15.30px;background:#084892;color:#fff">0.95</div>
<div class="c" style="left:129.75px;top:356.03px;width:27.50px;height:15.30px;background:#20a0d3;color:#262626">0.76</div>
<div class="c" style="left:157.19px;top:356.03px;width:27.50px;height:15.30px;background:#147ec1;color:#fff">0.85</div>
<div class="c" style="left:184.64px;top:356.03px;width:27.50px;height:15.30px;background:#1c98cf;color:#262626">0.78</div>
<div class="c" style="left:212.09px;top:356.03px;width:27.50px;height:15.30px;background:#1a90cb;color:#fff">0.8</div>
<div class="c" style="left:239.53px;top:356.03px;width:27.50px;height:15.30px;background:#147ec1;color:#fff">0.85</div>
<div class="c" style="left:266.98px;top:356.03px;width:27.50px;height:15.30px;background:#147ec1;color:#fff">0.85</div>
<div class="c" style="left:294.43px;top:356.03px;width:27.50px;height:15.30px;background:#1072b9;color:#fff">0.88</div>
<div class="c" style="left:321.87px;top:356.03px;width:27.50px;height:15.30px;background:#1176bc;color:#fff">0.87</div>
<div class="c" style="left:349.32px;top:356.03px;width:27.50px;height:15.30px;background:#1072b9;color:#fff">0.88</div>
<div class="c" style="left:376.77px;top:356.03px;width:27.50px;height:15.30px;background:#0e6bb4;color:#fff">0.89</div>
<div class="c" style="left:404.21px;top:356.03px;width:27.50px;height:15.30px;background:#1279be;color:#fff">0.86</div>
<div class="c" style="left:431.66px;top:356.03px;width:27.50px;height:15.30px;background:#188ac8;color:#fff">0.82</div>
<div class="c" style="left:459.11px;top:356.03px;width:27.50px;height:15.30px;background:#1786c6;color:#fff">0.83</div>
<div class="c" style="left:486.55px;top:356.03px;width:27.50px;height:15.30px;background:#1682c4;color:#fff">0.84</div>
<div class="yl" style="top:374.50px">Spin rate (rpm)</div>
<div class="c" style="left:102.30px;top:371.28px;width:27.50px;height:15.30px;background:#e6f0f6;color:#262626">0.55</div>
<div class="c" style="left:129.75px;top:371.28px;width:27.50px;height:15.30px;background:#1e9cd1;color:#262626">0.77</div>
<div class="c" style="left:157.19px;top:371.28px;width:27.50px;height:15.30px;background:#1e9cd1;color:#262626">0.77</div>
<div class="c" style="left:184.64px;top:371.28px;width:27.50px;height:15.30px;background:#1786c6;color:#fff">0.83</div>
<div class="c" style="left:212.09px;top:371.28px;width:27.50px;height:15.30px;background:#20a0d3;color:#262626">0.76</div>
<div class="c" style="left:239.53px;top:371.28px;width:27.50px;height:15.30px;background:#3fabd6;color:#262626">0.74</div>
<div class="c" style="left:266.98px;top:371.28px;width:27.50px;height:15.30px;background:#20a0d3;color:#262626">0.76</div>
<div class="c" style="left:294.43px;top:371.28px;width:27.50px;height:15.30px;background:#1279be;color:#fff">0.86</div>
<div class="c" style="left:321.87px;top:371.28px;width:27.50px;height:15.30px;background:#0b5fab;color:#fff">0.91</div>
<div class="c" style="left:349.32px;top:371.28px;width:27.50px;height:15.30px;background:#0b5fab;color:#fff">0.91</div>
<div class="c" style="left:376.77px;top:371.28px;width:27.50px;height:15.30px;background:#0b5fab;color:#fff">0.91</div>
<div class="c" style="left:404.21px;top:371.28px;width:27.50px;height:15.30px;background:#0e6bb4;color:#fff">0.89</div>
<div class="c" style="left:431.66px;top:371.28px;width:27.50px;height:15.30px;background:#1072b9;color:#fff">0.88</div>
<div class="c" style="left:459.11px;top:371.28px;width:27.50px;height:15.30px;background:#0c64b0;color:#fff">0.9</div>
<div class="c" style="left:486.55px;top:371.28px;width:27.50px;height:15.30px;background:#0a5aa6;color:#fff">0.92</div>
<div class="yl" style="top:389.75px">Apex height (m)</div>
<div class="c" style="left:102.30px;top:386.53px;width:27.50px;height:15.30px;background:#93cae3;color:#262626">0.69</div>
<div class="c" style="left:129.75px;top:386.53px;width:27.50px;height:15.30px;background:#65b9dc;color:#262626">0.72</div>
<div class="c" style="left:157.19px;top:386.53px;width:27.50px;height:15.30px;background:#188ac8;color:#fff">0.82</div>
<div class="c" style="left:184.64px;top:386.53px;width:27.50px;height:15.30px;background:#1279be;color:#fff">0.86</div>
<div class="c" style="left:212.09px;top:386.53px;width:27.50px;height:15.30px;background:#1176bc;color:#fff">0.87</div>
<div class="c" style="left:239.53px;top:386.53px;width:27.50px;height:15.30px;background:#0c64b0;color:#fff">0.9</div>
<div class="c" style="left:266.98px;top:386.53px;width:27.50px;height:15.30px;background:#0e6bb4;color:#fff">0.89</div>
<div class="c" style="left:294.43px;top:386.53px;width:27.50px;height:15.30px;background:#09549f;color:#fff">0.93</div>
<div class="c" style="left:321.87px;top:386.53px;width:27.50px;height:15.30px;background:#094e99;color:#fff">0.94</div>
<div class="c" style="left:349.32px;top:386.53px;width:27.50px;height:15.30px;background:#094e99;color:#fff">0.94</div>
<div class="c" style="left:376.77px;top:386.53px;width:27.50px;height:15.30px;background:#084892;color:#fff">0.95</div>
<div class="c" style="left:404.21px;top:386.53px;width:27.50px;height:15.30px;background:#084892;color:#fff">0.95</div>
<div class="c" style="left:431.66px;top:386.53px;width:27.50px;height:15.30px;background:#084892;color:#fff">0.95</div>
<div class="c" style="left:459.11px;top:386.53px;width:27.50px;height:15.30px;background:#084892;color:#fff">0.95</div>
<div class="c" style="left:486.55px;top:386.53px;width:27.50px;height:15.30px;background:#084892;color:#fff">0.95</div>
<div class="yl" style="top:405.00px">Flight time (s)</div>
<div class="c" style="left:102.30px;top:401.77px;width:27.50px;height:15.30px;background:#1a90cb;color:#fff">0.8</div>
<div class="c" style="left:129.75px;top:401.77px;width:27.50px;height:15.30px;background:#1786c6;color:#fff">0.83</div>
<div class="c" style="left:157.19px;top:401.77px;width:27.50px;height:15.30px;background:#1072b9;color:#fff">0.88</div>
<div class="c" style="left:184.64px;top:401.77px;width:27.50px;height:15.30px;background:#0e6bb4;color:#fff">0.89</div>
<div class="c" style="left:212.09px;top:401.77px;width:27.50px;height:15.30px;background:#0b5fab;color:#fff">0.91</div>
<div class="c" style="left:239.53px;top:401.77px;width:27.50px;height:15.30px;background:#0a5aa6;color:#fff">0.92</div>
<div class="c" style="left:266.98px;top:401.77px;width:27.50px;height:15.30px;background:#09549f;color:#fff">0.93</div>
<div class="c" style="left:294.43px;top:401.77px;width:27.50px;height:15.30px;background:#084892;color:#fff">0.95</div>
<div class="c" style="left:321.87px;top:401.77px;width:27.50px;height:15.30px;background:#084892;color:#fff">0.95</div>
<div class="c" style="left:349.32px;top:401.77px;width:27.50px;height:15.30px;background:#084892;color:#fff">0.95</div>
<div class="c" style="left:376.77px;top:401.77px;width:27.50px;height:15.30px;background:#084892;color:#fff">0.95</div>
<div class="c" style="left:404.21px;top:401.77px;width:27.50px;height:15.30px;background:#084892;color:#fff">0.95</div>
<div class="c" style="left:431.66px;top:401.77px;width:27.50px;height:15.30px;background:#094e99;color:#fff">0.94</div>
<div class="c" style="left:459.11px;top:401.77px;width:27.50px;height:15.30px;background:#094e99;color:#fff">0.94</div>
<div class="c" style="left:486.55px;top:401.77px;width:27.50px;height:15.30px;background:#094e99;color:#fff">0.94</div>
<div class="yl" style="top:420.24px">Angle of attack (°)</div>
<div class="c" style="left:102.30px;top:417.02px;width:27.50px;height:15.30px;background:#fc9878;color:#262626">0.29</div>
<div class="c" style="left:129.75px;top:417.02px;width:27.50px;height:15.30px;background:#65b9dc;color:#262626">0.72</div>
<div class="c" style="left:157.19px;top:417.02px;width:27.50px;height:15.30px;background:#abd4e8;color:#262626">0.66</div>
<div class="c" style="left:184.64px;top:417.02px;width:27.50px;height:15.30px;background:#cee2f0;color:#262626">0.61</div>
<div class="c" style="left:212.09px;top:417.02px;width:27.50px;height:15.30px;background:#88c6e1;color:#262626">0.7</div>
<div class="c" style="left:239.53px;top:417.02px;width:27.50px;height:15.30px;background:#1786c6;color:#fff">0.83</div>
<div class="c" style="left:266.98px;top:417.02px;width:27.50px;height:15.30px;background:#1279be;color:#fff">0.86</div>
<div class="c" style="left:294.43px;top:417.02px;width:27.50px;height:15.30px;background:#0b5fab;color:#fff">0.91</div>
<div class="c" style="left:321.87px;top:417.02px;width:27.50px;height:15.30px;background:#094e99;color:#fff">0.94</div>
<div class="c" style="left:349.32px;top:417.02px;width:27.50px;height:15.30px;background:#094e99;color:#fff">0.94</div>
<div class="c" style="left:376.77px;top:417.02px;width:27.50px;height:15.30px;background:#094e99;color:#fff">0.94</div>
<div class="c" style="left:404.21px;top:417.02px;width:27.50px;height:15.30px;background:#084892;color:#fff">0.95</div>
<div class="c" style="left:431.66px;top:417.02px;width:27.50px;height:15.30px;background:#084892;color:#fff">0.95</div>
<div class="c" style="left:459.11px;top:417.02px;width:27.50px;height:15.30px;background:#084892;color:#fff">0.95</div>
<div class="c" style="left:486.55px;top:417.02px;width:27.50px;height:15.30px;background:#094e99;color:#fff">0.94</div>
<div class="yl" style="top:435.49px">Spin Loft (°)</div>
<div class="c" style="left:102.30px;top:432.27px;width:27.50px;height:15.30px;background:#1072b9;color:#fff">0.88</div>
<div class="c" style="left:129.75px;top:432.27px;width:27.50px;height:15.30px;background:#1b94cd;color:#262626">0.79</div>
<div class="c" style="left:157.19px;top:432.27px;width:27.50px;height:15.30px;background:#1e9cd1;color:#262626">0.77</div>
<div class="c" style="left:184.64px;top:432.27px;width:27.50px;height:15.30px;background:#88c6e1;color:#262626">0.7</div>
<div class="c" style="left:212.09px;top:432.27px;width:27.50px;height:15.30px;background:#3fabd6;color:#262626">0.74</div>
<div class="c" style="left:239.53px;top:432.27px;width:27.50px;height:15.30px;background:#198dca;color:#fff">0.81</div>
<div class="c" style="left:266.98px;top:432.27px;width:27.50px;height:15.30px;background:#188ac8;color:#fff">0.82</div>
<div class="c" style="left:294.43px;top:432.27px;width:27.50px;height:15.30px;background:#1072b9;color:#fff">0.88</div>
<div class="c" style="left:321.87px;top:432.27px;width:27.50px;height:15.30px;background:#0e6bb4;color:#fff">0.89</div>
<div class="c" style="left:349.32px;top:432.27px;width:27.50px;height:15.30px;background:#0c64b0;color:#fff">0.9</div>
<div class="c" style="left:376.77px;top:432.27px;width:27.50px;height:15.30px;background:#0b5fab;color:#fff">0.91</div>
<div class="c" style="left:404.21px;top:432.27px;width:27.50px;height:15.30px;background:#0b5fab;color:#fff">0.91</div>
<div class="c" style="left:431.66px;top:432.27px;width:27.50px;height:15.30px;background:#0a5aa6;color:#fff">0.92</div>
<div class="c" style="left:459.11px;top:432.27px;width:27.50px;height:15.30px;background:#09549f;color:#fff">0.93</div>
<div class="c" style="left:486.55px;top:432.27px;width:27.50px;height:15.30px;background:#09549f;color:#fff">0.93</div>
<div class="yl" style="top:450.74px">Spin Axis (°)</div>
<div class="c" style="left:102.30px;top:447.51px;width:27.50px;height:15.30px;background:#8a0a1e;color:#fff">-0.21</div>
<div class="c" style="left:129.75px;top:447.51px;width:27.50px;height:15.30px;background:#fde9dd;color:#262626">0.44</div>
<div class="c" style="left:157.19px;top:447.51px;width:27.50px;height:15.30px;background:#deebf4;color:#262626">0.57</div>
<div class="c" style="left:184.64px;top:447.51px;width:27.50px;height:15.30px;background:#badaec;color:#262626">0.64</div>
<div class="c" style="left:212.09px;top:447.51px;width:27.50px;height:15.30px;background:#f55d42;color:#262626">0.21</div>
<div class="c" style="left:239.53px;top:447.51px;width:27.50px;height:15.30px;background:#fca585;color:#262626">0.31</div>
<div class="c" style="left:266.98px;top:447.51px;width:27.50px;height:15.30px;background:#df2b34;color:#fff">0.15</div>
<div class="c" style="left:294.43px;top:447.51px;width:27.50px;height:15.30px;background:#bb122a;color:#fff">0.06</div>
<div class="c" style="left:321.87px;top:447.51px;width:27.50px;height:15.30px;background:#8a0a1e;color:#fff">-0</div>
<div class="c" style="left:349.32px;top:447.51px;width:27.50px;height:15.30px;background:#ca182c;color:#fff">0.09</div>
<div class="c" style="left:376.77px;top:447.51px;width:27.50px;height:15.30px;background:#c0142a;color:#fff">0.07</div>
<div class="c" style="left:404.21px;top:447.51px;width:27.50px;height:15.30px;background:#c0142a;color:#fff">0.07</div>
<div class="c" style="left:431.66px;top:447.51px;width:27.50px;height:15.30px;background:#8a0a1e;color:#fff">0</div>
<div class="c" style="left:459.11px;top:447.51px;width:27.50px;height:15.30px;background:#8a0a1e;color:#fff">-0</div>
<div class="c" style="left:486.55px;top:447.51px;width:27.50px;height:15.30px;background:#c5162b;color:#fff">0.08</div>
<div class="yl" style="top:465.98px">Lateral distance (m)</div>
<div class="c" style="left:102.30px;top:462.76px;width:27.50px;height:15.30px;background:#8a0a1e;color:#fff">-0.24</div>
<div class="c" style="left:129.75px;top:462.76px;width:27.50px;height:15.30px;background:#d51e2e;color:#fff">0.12</div>
<div class="c" style="left:157.19px;top:462.76px;width:27.50px;height:15.30px;background:#b41129;color:#fff">0.05</div>
<div class="c" style="left:184.64px;top:462.76px;width:27.50px;height:15.30px;background:#8a0a1e;color:#fff">-0.06</div>
<div class="c" style="left:212.09px;top:462.76px;width:27.50px;height:15.30px;background:#8a0a1e;color:#fff">-0.02</div>
<div class="c" style="left:239.53px;top:462.76px;width:27.50px;height:15.30px;background:#8a0a1e;color:#fff">-0.05</div>
<div class="c" style="left:266.98px;top:462.76px;width:27.50px;height:15.30px;background:#bb122a;color:#fff">0.06</div>
<div class="c" style="left:294.43px;top:462.76px;width:27.50px;height:15.30px;background:#ae1028;color:#fff">0.04</div>
<div class="c" style="left:321.87px;top:462.76px;width:27.50px;height:15.30px;background:#9e0d23;color:#fff">0.02</div>
<div class="c" style="left:349.32px;top:462.76px;width:27.50px;height:15.30px;background:#8a0a1e;color:#fff">-0</div>
<div class="c" style="left:376.77px;top:462.76px;width:27.50px;height:15.30px;background:#9e0d23;color:#fff">0.02</div>
<div class="c" style="left:404.21px;top:462.76px;width:27.50px;height:15.30px;background:#ae1028;color:#fff">0.04</div>
<div class="c" style="left:431.66px;top:462.76px;width:27.50px;height:15.30px;background:#940c20;color:#fff">0.01</div>
<div class="c" style="left:459.11px;top:462.76px;width:27.50px;height:15.30px;background:#8a0a1e;color:#fff">-0.01</div>
<div class="c" style="left:486.55px;top:462.76px;width:27.50px;height:15.30px;background:#940c20;color:#fff">0.01</div>
<div class="yl" style="top:481.23px">Launch direction (°)</div>
<div class="c" style="left:102.30px;top:478.01px;width:27.50px;height:15.30px;background:#8a0a1e;color:#fff">-0.48</div>
<div class="c" style="left:129.75px;top:478.01px;width:27.50px;height:15.30px;background:#8a0a1e;color:#fff">-0.11</div>
<div class="c" style="left:157.19px;top:478.01px;width:27.50px;height:15.30px;background:#8a0a1e;color:#fff">-0.08</div>
<div class="c" style="left:184.64px;top:478.01px;width:27.50px;height:15.30px;background:#8a0a1e;color:#fff">-0.16</div>
<div class="c" style="left:212.09px;top:478.01px;width:27.50px;height:15.30px;background:#8a0a1e;color:#fff">-0.14</div>
<div class="c" style="left:239.53px;top:478.01px;width:27.50px;height:15.30px;background:#8a0a1e;color:#fff">-0.2</div>
<div class="c" style="left:266.98px;top:478.01px;width:27.50px;height:15.30px;background:#8a0a1e;color:#fff">-0.06</div>
<div class="c" style="left:294.43px;top:478.01px;width:27.50px;height:15.30px;background:#8a0a1e;color:#fff">-0.05</div>
<div class="c" style="left:321.87px;top:478.01px;width:27.50px;height:15.30px;background:#8a0a1e;color:#fff">-0.06</div>
<div class="c" style="left:349.32px;top:478.01px;width:27.50px;height:15.30px;background:#8a0a1e;color:#fff">-0.11</div>
<div class="c" style="left:376.77px;top:478.01px;width:27.50px;height:15.30px;background:#8a0a1e;color:#fff">-0.12</div>
<div class="c" style="left:404.21px;top:478.01px;width:27.50px;height:15.30px;background:#8a0a1e;color:#fff">-0.09</div>
<div class="c" style="left:431.66px;top:478.01px;width:27.50px;height:15.30px;background:#8a0a1e;color:#fff">-0.1</div>
<div class="c" style="left:459.11px;top:478.01px;width:27.50px;height:15.30px;background:#8a0a1e;color:#fff">-0.13</div>
<div class="c" style="left:486.55px;top:478.01px;width:27.50px;height:15.30px;background:#8a0a1e;color:#fff">-0.14</div>
<div class="yl" style="top:496.48px">Launch angle (°)</div>
<div class="c" style="left:102.30px;top:493.25px;width:27.50px;height:15.30px;background:#0b5fab;color:#fff">0.91</div>
<div class="c" style="left:129.75px;top:493.25px;width:27.50px;height:15.30px;background:#0e6bb4;color:#fff">0.89</div>
<div class="c" style="left:157.19px;top:493.25px;width:27.50px;height:15.30px;background:#1072b9;color:#fff">0.88</div>
<div class="c" style="left:184.64px;top:493.25px;width:27.50px;height:15.30px;background:#1279be;color:#fff">0.86</div>
<div class="c" style="left:212.09px;top:493.25px;width:27.50px;height:15.30px;background:#1176bc;color:#fff">0.87</div>
<div class="c" style="left:239.53px;top:493.25px;width:27.50px;height:15.30px;background:#1072b9;color:#fff">0.88</div>
<div class="c" style="left:266.98px;top:493.25px;width:27.50px;height:15.30px;background:#0e6bb4;color:#fff">0.89</div>
<div class="c" style="left:294.43px;top:493.25px;width:27.50px;height:15.30px;background:#0c64b0;color:#fff">0.9</div>
<div class="c" style="left:321.87px;top:493.25px;width:27.50px;height:15.30px;background:#0c64b0;color:#fff">0.9</div>
<div class="c" style="left:349.32px;top:493.25px;width:27.50px;height:15.30px;background:#0b5fab;color:#fff">0.91</div>
<div class="c" style="left:376.77px;top:493.25px;width:27.50px;height:15.30px;background:#09549f;color:#fff">0.93</div>
<div class="c" style="left:404.21px;top:493.25px;width:27.50px;height:15.30px;background:#0a5aa6;color:#fff">0.92</div>
<div class="c" style="left:431.66px;top:493.25px;width:27.50px;height:15.30px;background:#0a5aa6;color:#fff">0.92</div>
<div class="c" style="left:459.11px;top:493.25px;width:27.50px;height:15.30px;background:#0a5aa6;color:#fff">0.92</div>
<div class="c" style="left:486.55px;top:493.25px;width:27.50px;height:15.30px;background:#0a5aa6;color:#fff">0.92</div>
<div class="g" style="left:102.30px;top:295.00px;width:411.70px;height:1px"></div>
<div class="g" style="left:102.30px;top:310.00px;width:411.70px;height:1px"></div>
<div class="g" style="left:102.30px;top:325.00px;width:411.70px;height:1px"></div>
<div class="g" style="left:102.30px;top:340.00px;width:411.70px;height:1px"></div>
<div class="g" style="left:102.30px;top:356.00px;width:411.70px;height:1px"></div>
<div class="g" style="left:102.30px;top:371.00px;width:411.70px;height:1px"></div>
<div class="g" style="left:102.30px;top:386.00px;width:411.70px;height:1px"></div>
<div class="g" style="left:102.30px;top:401.00px;width:411.70px;height:1px"></div>
<div class="g" style="left:102.30px;top:417.00px;width:411.70px;height:1px"></div>
<div class="g" style="left:102.30px;top:432.00px;width:411.70px;height:1px"></div>
<div class="g" style="left:102.30px;top:447.00px;width:411.70px;height:1px"></div>
<div class="g" style="left:102.30px;top:462.00px;width:411.70px;height:1px"></div>
<div class="g" style="left:102.30px;top:478.00px;width:411.70px;height:1px"></div>
<div class="g" style="left:102.30px;top:493.00px;width:411.70px;height:1px"></div>
<div class="g" style="left:129.00px;top:279.80px;width:1px;height:228.70px"></div>
<div class="g" style="left:157.00px;top:279.80px;width:1px;height:228.70px"></div>
<div class="g" style="left:184.00px;top:279.80px;width:1px;height:228.70px"></div>
<div class="g" style="left:212.00px;top:279.80px;width:1px;height:228.70px"></div>
<div class="g" style="left:239.00px;top:279.80px;width:1px;height:228.70px"></div>
<div class="g" style="left:266.00px;top:279.80px;width:1px;height:228.70px"></div>
<div class="g" style="left:294.00px;top:279.80px;width:1px;height:228.70px"></div>
<div class="g" style="left:321.00px;top:279.80px;width:1px;height:228.70px"></div>
<div class="g" style="left:349.00px;top:279.80px;width:1px;height:228.70px"></div>
<div class="g" style="left:376.00px;top:279.80px;width:1px;height:228.70px"></div>
<div class="g" style="left:404.00px;top:279.80px;width:1px;height:228.70px"></div>
<div class="g" style="left:431.00px;top:279.80px;width:1px;height:228.70px"></div>
<div class="g" style="left:459.00px;top:279.80px;width:1px;height:228.70px"></div>
<div class="g" style="left:486.00px;top:279.80px;width:1px;height:228.70px"></div>
<div class="xl" style="left:102.02px;top:510.10px">1</div>
<div class="xl" style="left:129.47px;top:510.10px">2</div>
<div class="xl" style="left:156.92px;top:510.10px">3</div>
<div class="xl" style="left:184.36px;top:510.10px">4</div>
<div class="xl" style="left:211.81px;top:510.10px">5</div>
<div class="xl" style="left:239.26px;top:510.10px">6</div>
<div class="xl" style="left:266.70px;top:510.10px">7</div>
<div class="xl" style="left:294.15px;top:510.10px">8</div>
<div class="xl" style="left:321.60px;top:510.10px">9</div>
<div class="xl" style="left:349.04px;top:510.10px">10</div>
<div class="xl" style="left:376.49px;top:510.10px">11</div>
<div class="xl" style="left:403.94px;top:510.10px">12</div>
<div class="xl" style="left:431.38px;top:510.10px">13</div>
<div class="xl" style="left:458.83px;top:510.10px">14</div>
<div class="xl" style="left:486.28px;top:510.10px">15</div>
<div class="cb" style="top:279.80px;height:228.70px;background:linear-gradient(to bottom,#08306b 0.0%,#08377a 2.0%,#08418a 4.0%,#094e99 6.0%,#0a5aa6 8.0%,#0c64b0 10.0%,#1072b9 12.0%,#1279be 14.0%,#1682c4 16.0%,#188ac8 18.0%,#1a90cb 20.0%,#1c98cf 22.0%,#20a0d3 24.0%,#2ea5d4 25.0%,#3fabd6 26.0%,#50b1d9 27.0%,#65b9dc 28.0%,#7ac1df 29.0%,#88c6e1 30.0%,#93cae3 31.0%,#9ecfe5 32.0%,#a6d2e7 33.0%,#b0d7ea 35.0%,#c3deee 37.0%,#cee2f0 39.0%,#d4e4f1 41.0%,#e3eef6 44.0%,#e9f1f5 46.0%,#f5f3f3 49.0%,#faf1ec 51.0%,#fdece3 54.0%,#fde7da 57.0%,#fddccb 60.0%,#fdc9b2 64.0%,#fcb79b 67.0%,#fcab8c 68.0%,#fc9f7e 70.0%,#fc9272 72.0%,#fb8463 74.0%,#fa7b5b 75.0%,#f86a4b 77.0%,#f55d42 79.0%,#f24e3b 80.0%,#ea413a 82.0%,#e33237 84.0%,#db2431 86.0%,#d51e2e 88.0%,#ce1a2c 90.0%,#c5162b 92.0%,#bb122a 94.0%,#ae1028 96.0%,#9e0d23 98.0%,#8a0a1e 100.0%)"></div>
<div class="cl" style="top:504.70px">0</div>
<div class="cl" style="top:481.83px">0.1</div>
<div style="position:absolute;left:521.5px;width:1.5px;height:1px;top:485.13px;background:rgba(70,70,70,0.45)"></div>
<div class="cl" style="top:458.96px">0.2</div>
<div style="position:absolute;left:521.5px;width:1.5px;height:1px;top:462.26px;background:rgba(70,70,70,0.45)"></div>
<div class="cl" style="top:436.09px">0.3</div>
<div style="position:absolute;left:521.5px;width:1.5px;height:1px;top:439.39px;background:rgba(70,70,70,0.45)"></div>
<div class="cl" style="top:413.22px">0.4</div>
<div style="position:absolute;left:521.5px;width:1.5px;height:1px;top:416.52px;background:rgba(70,70,70,0.45)"></div>
<div class="cl" style="top:390.35px">0.5</div>
<div style="position:absolute;left:521.5px;width:1.5px;height:1px;top:393.65px;background:rgba(70,70,70,0.45)"></div>
<div class="cl" style="top:367.48px">0.6</div>
<div style="position:absolute;left:521.5px;width:1.5px;height:1px;top:370.78px;background:rgba(70,70,70,0.45)"></div>
<div class="cl" style="top:344.61px">0.7</div>
<div style="position:absolute;left:521.5px;width:1.5px;height:1px;top:347.91px;background:rgba(70,70,70,0.45)"></div>
<div class="cl" style="top:321.74px">0.8</div>
<div style="position:absolute;left:521.5px;width:1.5px;height:1px;top:325.04px;background:rgba(70,70,70,0.45)"></div>
<div class="cl" style="top:298.87px">0.9</div>
<div style="position:absolute;left:521.5px;width:1.5px;height:1px;top:302.17px;background:rgba(70,70,70,0.45)"></div>
<div class="cl" style="top:276.00px">1</div>
<div class="rot" style="left:2.6px;top:140.4px;letter-spacing:-0.2px">Driver</div>
<div class="rot" style="left:2.6px;top:412.2px;letter-spacing:0.5px">6-Iron</div>
<div class="xt" style="left:265px"><span style="letter-spacing:-0.05px">Number</span> <span style="position:absolute;left:45.9px;letter-spacing:0.6px">of</span> <span style="position:absolute;left:62.8px;letter-spacing:0.3px">Shots</span></div>
</body></html>
